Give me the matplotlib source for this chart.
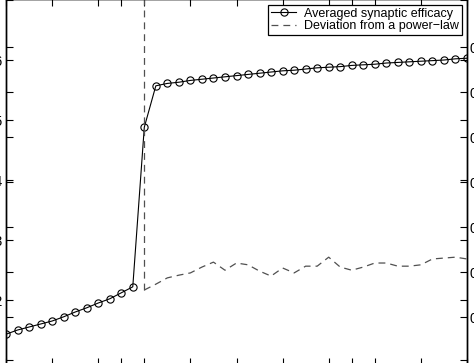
import matplotlib.pyplot as plt
import numpy as np

# averaged synaptic efficacy (left axis), one value per step 0..40
steps = np.arange(41)
efficacy = [0.143, 0.150, 0.155, 0.160, 0.165, 0.172, 0.180, 0.187, 0.195, 0.202,
            0.212, 0.222, 0.488, 0.557, 0.561, 0.563, 0.566, 0.568, 0.570, 0.572,
            0.574, 0.576, 0.578, 0.580, 0.582, 0.583, 0.585, 0.587, 0.588, 0.589,
            0.591, 0.592, 0.593, 0.595, 0.596, 0.597, 0.598, 0.599, 0.600, 0.602,
            0.603]

# deviation from a power-law (right axis), defined from step 12 on
dev_steps = np.arange(12, 41)
deviation = [0.060, 0.073, 0.087, 0.093, 0.098, 0.111, 0.122, 0.104, 0.120, 0.116,
             0.102, 0.091, 0.109, 0.098, 0.113, 0.113, 0.133, 0.111, 0.104, 0.111,
             0.120, 0.120, 0.113, 0.113, 0.116, 0.129, 0.131, 0.133, 0.129]

x_ticks = [0, 4, 8, 10, 12, 16, 20, 24, 28, 30, 32, 36, 40]
left_ticks = [0.1, 0.2, 0.3, 0.4, 0.5, 0.6, 0.7]
left_labels = ['0.1', '0.2', '0.3', '0.4', '0.5', '0.6', '0.7']
right_ticks = [0.0, 0.1, 0.2, 0.3, 0.4, 0.5, 0.6]
right_labels = ['0', '0.1', '0.2', '0.3', '0.4', '0.5', '0.6']


# left <-> right unit conversion (both share the same pixel frame)
def r2l(r):
    return 0.2 + (-17 + 450 * np.asarray(r)) / 600


def l2r(v):
    return ((np.asarray(v) - 0.2) * 600 + 17) / 450


plt.rcParams['font.family'] = ['Liberation Sans', 'DejaVu Sans']
fig = plt.figure(figsize=(4.74, 3.63), dpi=100)
ax = fig.add_axes([6 / 474, -2 / 363, 461 / 474, 366 / 363])
ax2 = ax.twinx()

ylo, yhi = 0.0917, 0.7017
ax.set_xlim(0, 40)
ax.set_ylim(ylo, yhi)
ax2.set_ylim(l2r(ylo), l2r(yhi))

l1, = ax.plot(steps, efficacy, color='k', lw=0.8, marker='o', ms=5.2,
              mfc='none', mec='k', mew=0.8, label='Averaged synaptic efficacy')
l2, = ax2.plot(dev_steps, deviation, color='#505050', lw=0.9, ls=(0, (5.5, 4)),
               label='Deviation from a power\u2212law')
ax2.vlines(dev_steps[0], deviation[0], ax2.get_ylim()[1], color='#505050',
           lw=0.9, linestyles=[(0, (5.5, 4))])

ax.set_xticks(x_ticks)
ax.set_xticklabels([])
ax.set_yticks(left_ticks)
ax.set_yticklabels(left_labels)
ax.set_yticks(r2l(right_ticks), minor=True)
ax2.set_yticks(right_ticks)
ax2.set_yticklabels(right_labels)
ax2.set_yticks(l2r(left_ticks), minor=True)

ax.tick_params(axis='both', which='both', direction='in', length=5, width=0.8,
               labelsize=10, pad=2.2, top=True)
ax.tick_params(axis='y', which='both', right=False)
ax2.tick_params(axis='y', which='both', direction='in', length=5, width=0.8,
                labelsize=10, pad=2)
for a in (ax, ax2):
    for s in a.spines.values():
        s.set_linewidth(1.0)

leg = ax2.legend(handles=[l1, l2], loc='upper right', fontsize=9,
                 bbox_to_anchor=(0.997, 0.995), borderaxespad=0.3,
                 handlelength=2.0, handletextpad=0.6, labelspacing=0.05,
                 borderpad=0.25, fancybox=False, framealpha=1)
leg.get_frame().set_edgecolor('k')
leg.get_frame().set_linewidth(0.9)

fig.savefig('out.png', dpi=100)
